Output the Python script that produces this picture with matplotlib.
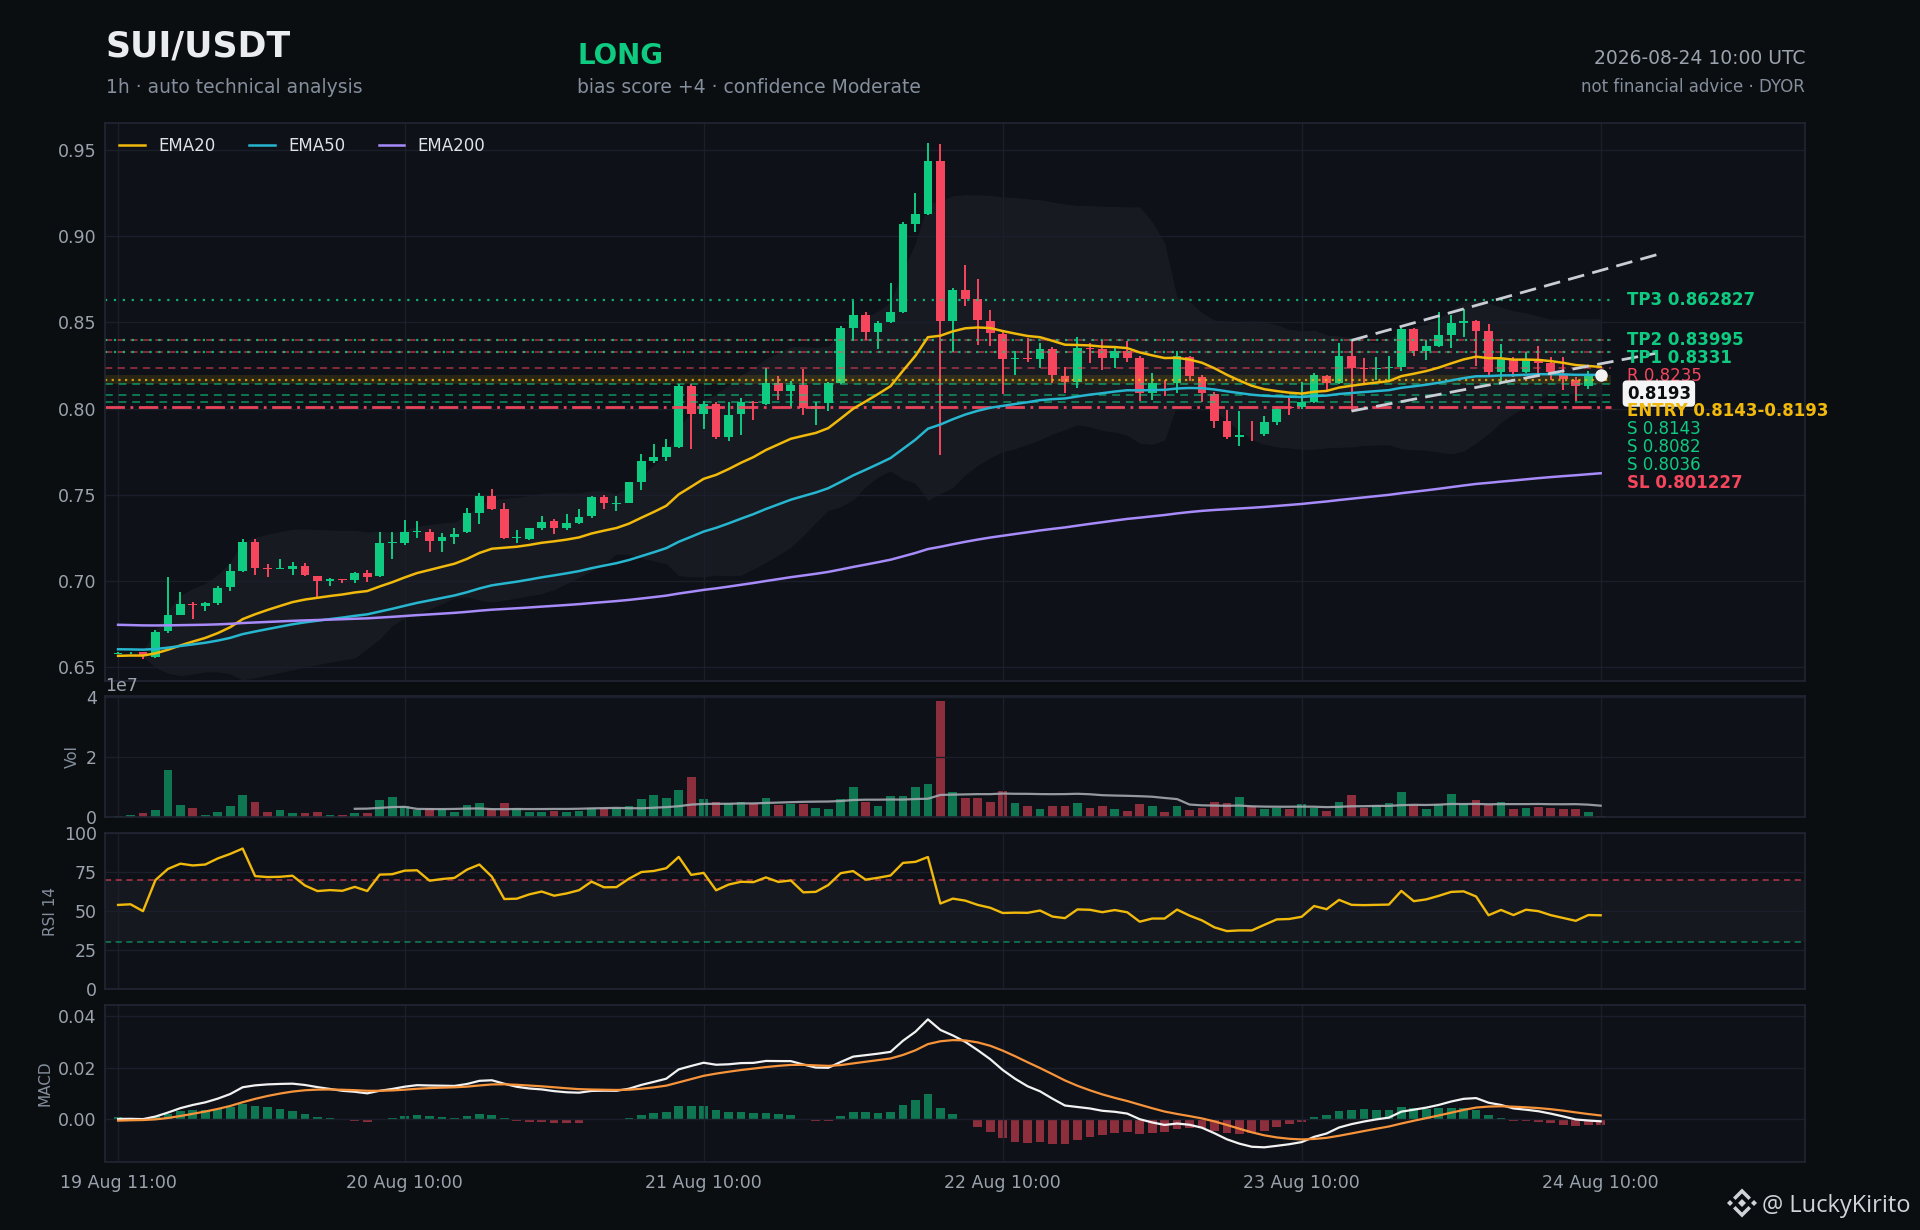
import numpy as np
import pandas as pd
import matplotlib
matplotlib.use("Agg")
import matplotlib.pyplot as plt
from matplotlib.patches import Polygon

# ---------------- data ----------------
opens = [0.6578, 0.6580, 0.6586, 0.6560, 0.6710, 0.6804, 0.6866, 0.6856, 0.6872, 0.6966,
         0.7060, 0.7226, 0.7076, 0.7070, 0.7072, 0.7090, 0.7032, 0.7000, 0.7010, 0.7006,
         0.7046, 0.7030, 0.7222, 0.7222, 0.7284, 0.7284, 0.7234, 0.7256, 0.7282, 0.7396,
         0.7492, 0.7420, 0.7250, 0.7246, 0.7306, 0.7346, 0.7310, 0.7336, 0.7376, 0.7490,
         0.7448, 0.7454, 0.7576, 0.7696, 0.7720, 0.7780, 0.8132, 0.7970, 0.8026, 0.7836,
         0.7970, 0.8036, 0.8026, 0.8146, 0.8102, 0.8136, 0.8000, 0.8030, 0.8146, 0.8470,
         0.8542, 0.8442, 0.8502, 0.8562, 0.9072, 0.9130, 0.9438, 0.8506, 0.8690, 0.8634,
         0.8510, 0.8432, 0.8290, 0.8296, 0.8290, 0.8346, 0.8190, 0.8156, 0.8352, 0.8346,
         0.8292, 0.8336, 0.8292, 0.8090, 0.8150, 0.8146, 0.8300, 0.8186, 0.8086, 0.7930,
         0.7836, 0.7850, 0.7852, 0.7922, 0.8010, 0.8010, 0.8036, 0.8190, 0.8146, 0.8306,
         0.8236, 0.8232, 0.8236, 0.8242, 0.8462, 0.8336, 0.8366, 0.8430, 0.8496, 0.8506,
         0.8450, 0.8210, 0.8286, 0.8210, 0.8290, 0.8266, 0.8200, 0.8166, 0.8130, 0.8196]
highs = [0.6586, 0.6590, 0.6588, 0.6716, 0.7026, 0.6934, 0.6876, 0.6880, 0.6970, 0.7096,
         0.7246, 0.7242, 0.7096, 0.7126, 0.7110, 0.7102, 0.7032, 0.7016, 0.7012, 0.7050,
         0.7066, 0.7286, 0.7286, 0.7354, 0.7346, 0.7302, 0.7276, 0.7306, 0.7422, 0.7510,
         0.7534, 0.7452, 0.7296, 0.7310, 0.7376, 0.7360, 0.7386, 0.7416, 0.7496, 0.7498,
         0.7496, 0.7576, 0.7736, 0.7794, 0.7822, 0.8142, 0.8142, 0.8042, 0.8036, 0.8036,
         0.8062, 0.8046, 0.8236, 0.8190, 0.8160, 0.8230, 0.8036, 0.8156, 0.8480, 0.8626,
         0.8560, 0.8510, 0.8730, 0.9080, 0.9252, 0.9542, 0.9536, 0.8700, 0.8834, 0.8750,
         0.8572, 0.8442, 0.8336, 0.8410, 0.8382, 0.8356, 0.8242, 0.8416, 0.8382, 0.8396,
         0.8350, 0.8392, 0.8306, 0.8206, 0.8166, 0.8332, 0.8306, 0.8194, 0.8096, 0.7992,
         0.7986, 0.7926, 0.7956, 0.8010, 0.8062, 0.8156, 0.8206, 0.8194, 0.8380, 0.8396,
         0.8294, 0.8300, 0.8306, 0.8466, 0.8470, 0.8400, 0.8560, 0.8546, 0.8576, 0.8512,
         0.8490, 0.8376, 0.8302, 0.8330, 0.8362, 0.8300, 0.8300, 0.8186, 0.8216, 0.8200]
lows = [0.6574, 0.6576, 0.6550, 0.6554, 0.6700, 0.6804, 0.6780, 0.6826, 0.6862, 0.6942,
        0.7054, 0.7036, 0.7022, 0.7068, 0.7036, 0.7030, 0.6906, 0.6972, 0.6990, 0.6990,
        0.6996, 0.7026, 0.7126, 0.7210, 0.7250, 0.7170, 0.7166, 0.7216, 0.7276, 0.7332,
        0.7412, 0.7246, 0.7222, 0.7240, 0.7296, 0.7272, 0.7296, 0.7332, 0.7366, 0.7420,
        0.7406, 0.7450, 0.7530, 0.7686, 0.7696, 0.7772, 0.7766, 0.7882, 0.7826, 0.7812,
        0.7850, 0.7936, 0.8022, 0.8052, 0.8006, 0.7966, 0.7906, 0.7986, 0.8142, 0.8396,
        0.8396, 0.8346, 0.8494, 0.8552, 0.9022, 0.9122, 0.7730, 0.8326, 0.8596, 0.8370,
        0.8366, 0.8086, 0.8196, 0.8270, 0.8236, 0.8150, 0.8090, 0.8122, 0.8266, 0.8222,
        0.8236, 0.8270, 0.8042, 0.8050, 0.8076, 0.8090, 0.8162, 0.8036, 0.7890, 0.7826,
        0.7786, 0.7812, 0.7842, 0.7906, 0.7966, 0.7996, 0.8030, 0.8106, 0.8142, 0.7986,
        0.8150, 0.8166, 0.8166, 0.8220, 0.8306, 0.8282, 0.8356, 0.8352, 0.8416, 0.8250,
        0.8196, 0.8156, 0.8186, 0.8206, 0.8206, 0.8166, 0.8106, 0.8046, 0.8116, 0.8188]
closes = [0.6582, 0.6584, 0.6566, 0.6702, 0.6800, 0.6866, 0.6860, 0.6872, 0.6962, 0.7056,
          0.7226, 0.7076, 0.7070, 0.7074, 0.7090, 0.7034, 0.7000, 0.7010, 0.7006, 0.7044,
          0.7022, 0.7220, 0.7226, 0.7284, 0.7290, 0.7234, 0.7256, 0.7270, 0.7392, 0.7492,
          0.7420, 0.7250, 0.7254, 0.7306, 0.7342, 0.7310, 0.7336, 0.7374, 0.7490, 0.7450,
          0.7452, 0.7572, 0.7696, 0.7718, 0.7776, 0.8132, 0.7970, 0.8026, 0.7836, 0.7966,
          0.8036, 0.8032, 0.8150, 0.8102, 0.8136, 0.8006, 0.8016, 0.8150, 0.8470, 0.8542,
          0.8442, 0.8496, 0.8562, 0.9072, 0.9130, 0.9438, 0.8506, 0.8690, 0.8634, 0.8516,
          0.8436, 0.8286, 0.8294, 0.8290, 0.8346, 0.8196, 0.8156, 0.8352, 0.8344, 0.8292,
          0.8336, 0.8292, 0.8090, 0.8146, 0.8146, 0.8306, 0.8190, 0.8090, 0.7930, 0.7836,
          0.7846, 0.7846, 0.7922, 0.8000, 0.8006, 0.8036, 0.8196, 0.8150, 0.8306, 0.8236,
          0.8232, 0.8236, 0.8240, 0.8462, 0.8336, 0.8366, 0.8426, 0.8496, 0.8506, 0.8452,
          0.8210, 0.8286, 0.8210, 0.8286, 0.8266, 0.8210, 0.8170, 0.8130, 0.8196, 0.8193]
volumes_m = [0.3, 0.56, 1.24, 2.25, 15.7, 3.9, 2.9, 0.56, 1.57, 3.6,
             7.3, 4.9, 1.57, 2.25, 1.24, 1.24, 1.57, 0.56, 0.56, 1.24,
             1.24, 5.6, 6.6, 3.6, 2.25, 2.9, 2.6, 1.57, 3.9, 4.6,
             2.6, 4.6, 2.9, 1.57, 1.57, 1.9, 1.57, 1.9, 2.9, 2.9,
             2.9, 3.6, 6.0, 7.3, 6.3, 9.0, 13.4, 6.0, 4.9, 4.6,
             4.9, 4.6, 6.3, 3.9, 4.3, 4.3, 2.9, 2.6, 6.0, 10.0,
             4.9, 3.6, 7.0, 7.0, 10.0, 11.0, 38.7, 8.3, 6.3, 6.3,
             4.9, 8.7, 4.6, 3.6, 2.6, 3.6, 3.6, 4.6, 2.9, 3.6,
             2.6, 1.9, 4.3, 3.6, 1.57, 3.6, 2.25, 2.9, 4.9, 4.6,
             6.6, 3.6, 2.6, 2.9, 2.6, 4.3, 2.9, 1.9, 4.9, 7.3,
             2.9, 3.9, 4.6, 8.3, 3.9, 2.6, 4.3, 7.6, 4.3, 5.6,
             3.9, 4.9, 2.6, 2.9, 3.3, 2.9, 2.6, 2.6, 1.57, 0.4]

tick_positions = [0, 23, 47, 71, 95, 119]
tick_labels = ["19 Aug 11:00", "20 Aug 10:00", "21 Aug 10:00",
               "22 Aug 10:00", "23 Aug 10:00", "24 Aug 10:00"]

ema_seeds = {20: 0.6566, 50: 0.6604, 200: 0.6746}
rsi_seed_gain, rsi_seed_loss = 0.0009, 0.00077
macd_seed_fast = macd_seed_slow = 0.6578
macd_seed_signal = -0.0008

# trade levels
tp_levels = [("TP3", 0.862827), ("TP2", 0.83995), ("TP1", 0.8331)]
resistance_levels = [0.83995, 0.8331, 0.8235]
support_levels = [0.8143, 0.8082, 0.8036]
entry_low, entry_high = 0.8143, 0.8193
stop_loss = 0.801227
last_price = 0.8193

channel_x = [99, 123.5]
channel_upper = [0.8396, 0.8893]
channel_lower = [0.7986, 0.8322]

# ---------------- derived series ----------------
o = np.array(opens); h = np.array(highs); l = np.array(lows); c = np.array(closes)
v = np.array(volumes_m) * 1e6
n = len(c)
x = np.arange(n)
up = c >= o


def ema(series, span, seed):
    a = 2.0 / (span + 1)
    out = np.empty(len(series))
    prev = seed
    for i, val in enumerate(series):
        prev = seed if i == 0 else a * val + (1 - a) * prev
        out[i] = prev
    return out


ema20 = ema(c, 20, ema_seeds[20])
ema50 = ema(c, 50, ema_seeds[50])
ema200 = ema(c, 200, ema_seeds[200])

cs = pd.Series(c)
bb_mid = cs.rolling(20, min_periods=1).mean()
bb_std = cs.rolling(20, min_periods=1).std(ddof=0)
bb_up = (bb_mid + 2 * bb_std).values
bb_lo = (bb_mid - 2 * bb_std).values

vol_ma = pd.Series(v).rolling(20).mean().values

ag, al = rsi_seed_gain, rsi_seed_loss
rsi = np.empty(n)
for i in range(n):
    if i > 0:
        d = c[i] - c[i - 1]
        ag = (ag * 13 + max(d, 0)) / 14
        al = (al * 13 + max(-d, 0)) / 14
    rsi[i] = 100 * ag / (ag + al)

af, as_ = 2 / 13, 2 / 27
ef = np.empty(n); es = np.empty(n)
pf, ps = macd_seed_fast, macd_seed_slow
for i in range(n):
    pf = af * c[i] + (1 - af) * pf
    ps = as_ * c[i] + (1 - as_) * ps
    ef[i], es[i] = pf, ps
macd = ef - es
sig = np.empty(n)
ps_ = macd_seed_signal
asg = 2 / 10
for i in range(n):
    ps_ = asg * macd[i] + (1 - asg) * ps_
    sig[i] = ps_
hist = macd - sig

# ---------------- style ----------------
W, H = 1920, 1230
FIG_BG = "#0b0e11"
AX_BG = "#0e1117"
GRID = "#1b1f2b"
SPINE = "#222633"
TICK = "#9aa3ad"
MUTED = "#848e9c"
GREEN = "#0ecb81"
RED = "#f6465d"
YELLOW = "#f0b90b"
CYAN = "#26b6cf"
PURPLE = "#a78bfa"

plt.rcParams["font.family"] = ["DejaVu Sans"]

fig = plt.figure(figsize=(W / 100, H / 100), dpi=100, facecolor=FIG_BG)


def rect(left, top, right, bottom):
    return [left / W, 1 - bottom / H, (right - left) / W, (bottom - top) / H]


ax = fig.add_axes(rect(105, 122.5, 1805, 681))
axv = fig.add_axes(rect(105, 695.5, 1805, 817), sharex=ax)
axr = fig.add_axes(rect(105, 833, 1805, 989), sharex=ax)
axm = fig.add_axes(rect(105, 1005, 1805, 1162), sharex=ax)

for a in (ax, axv, axr, axm):
    a.set_facecolor(AX_BG)
    for s in a.spines.values():
        s.set_color(SPINE)
        s.set_linewidth(1.2)
    a.grid(True, color=GRID, linewidth=1.0)
    a.tick_params(colors=TICK, labelsize=12.5, length=0, pad=6)

# ---- price panel ----
ax.fill_between(x, bb_lo, bb_up, color="white", alpha=0.04, linewidth=0, zorder=0.6)
cols = np.where(up, GREEN, RED)
body_bot = np.minimum(o, c)
body_h = np.maximum(np.abs(c - o), 0.0004)
ax.vlines(x, l, h, colors=cols, linewidth=1.4, zorder=2)
ax.bar(x, body_h, bottom=body_bot, width=0.7, color=cols, linewidth=0, zorder=2.1)

x0, x1 = -1.05, 119.8
ax.fill_between([x0, x1], entry_low, entry_high, color=YELLOW, alpha=0.12, linewidth=0, zorder=2.3)
ax.hlines((entry_low + entry_high) / 2, x0, x1, colors=YELLOW, linestyles=(0, (1, 2)),
          linewidth=1.6, alpha=0.8, zorder=2.4)
for lv in resistance_levels:
    ax.hlines(lv, x0, x1, colors=RED, linestyles=(0, (4, 3)), linewidth=1.3, alpha=0.55, zorder=2.4)
for _, lv in tp_levels:
    ax.hlines(lv, x0, x1, colors=GREEN, linestyles=(0, (1, 3)), linewidth=1.6, alpha=0.85, zorder=2.5)
for lv in support_levels:
    ax.hlines(lv, x0, x1, colors=GREEN, linestyles=(0, (4, 3)), linewidth=1.4, alpha=0.55, zorder=2.4)
ax.hlines(stop_loss, x0, x1, colors=RED, linestyles=(0, (7, 2, 1, 2)), linewidth=2.0, alpha=0.95, zorder=2.5)

ax.plot(x, ema20, color=YELLOW, lw=1.8, label="EMA20", zorder=3)
ax.plot(x, ema50, color=CYAN, lw=1.8, label="EMA50", zorder=3)
ax.plot(x, ema200, color=PURPLE, lw=1.8, label="EMA200", zorder=3)

ax.plot(channel_x, channel_upper, color="#c9ced6", lw=2.0, dashes=(6, 3), zorder=4)
ax.plot(channel_x, channel_lower, color="#c9ced6", lw=2.0, dashes=(6, 3), zorder=4)

ax.plot([n - 1], [last_price], "o", color="#f2f2f2", ms=8, zorder=6)

ax.set_xlim(x0, 135.4)
ax.set_ylim(0.642, 0.966)
ax.set_yticks([0.65, 0.70, 0.75, 0.80, 0.85, 0.90, 0.95])
ax.tick_params(labelbottom=False)
leg = ax.legend(loc="upper left", ncol=3, frameon=False, fontsize=12, labelcolor="#dfe3e8",
                handlelength=1.55, handletextpad=0.8, columnspacing=2.0,
                borderaxespad=0.45, borderpad=0.4)

# right-side labels
labels = [(tp_levels[0][1], "TP3 0.862827", GREEN, "bold", None),
          (tp_levels[1][1], "TP2 0.83995", GREEN, "bold", None),
          (tp_levels[2][1], "TP1 0.8331", GREEN, "bold", None),
          (0.8235, "R 0.8235", RED, "normal", None),
          (last_price, "0.8193", "#0b0e11", "bold", "box"),
          ((entry_low + entry_high) / 2, "ENTRY 0.8143-0.8193", YELLOW, "bold", None),
          (support_levels[0], "S 0.8143", GREEN, "normal", None),
          (support_levels[1], "S 0.8082", GREEN, "normal", None),
          (support_levels[2], "S 0.8036", GREEN, "normal", None),
          (stop_loss, "SL 0.801227", RED, "bold", None)]
gap = 0.0104
prev = None
for price, txt, col, wt, kind in labels:
    yl = price if prev is None else min(price, prev - gap)
    prev = yl
    kw = {}
    if kind == "box":
        kw["bbox"] = dict(boxstyle="round,pad=0.25", fc="#f5f5f5", ec="none")
    ax.text(121.1, yl, txt, color=col, fontsize=12, fontweight=wt, va="center", ha="left",
            zorder=7, clip_on=False, **kw)

# ---- volume ----
axv.bar(x, v, width=0.7, color=cols, alpha=0.55, linewidth=0)
axv.plot(x, vol_ma, color="#a4a9b0", lw=1.6, alpha=0.9)
axv.set_ylim(0, v.max() * 1.05)
axv.set_yticks([0, 2e7, 4e7])
axv.set_ylabel("Vol", color=MUTED, fontsize=11)
axv.yaxis.get_offset_text().set_color(TICK)
axv.yaxis.get_offset_text().set_fontsize(12.5)
axv.tick_params(labelbottom=False)

# ---- RSI ----
axr.axhspan(30, 70, color="white", alpha=0.03, linewidth=0)
axr.axhline(70, color=RED, ls=(0, (4, 3)), lw=1.1, alpha=0.7)
axr.axhline(30, color=GREEN, ls=(0, (4, 3)), lw=1.1, alpha=0.6)
axr.plot(x, rsi, color=YELLOW, lw=1.7)
axr.set_ylim(0, 100)
axr.set_yticks([0, 25, 50, 75, 100])
axr.set_ylabel("RSI 14", color=MUTED, fontsize=11)
axr.tick_params(labelbottom=False)

# ---- MACD ----
hcols = np.where(hist >= 0, GREEN, RED)
axm.bar(x, hist, width=0.7, color=hcols, alpha=0.55, linewidth=0)
axm.plot(x, macd, color="#f2f2f2", lw=1.6)
axm.plot(x, sig, color="#f7933a", lw=1.6)
axm.set_ylim(-0.0167, 0.0443)
axm.set_yticks([0.0, 0.02, 0.04])
axm.yaxis.set_major_formatter(matplotlib.ticker.FormatStrFormatter("%.2f"))
axm.set_ylabel("MACD", color=MUTED, fontsize=11)
axm.set_xticks(tick_positions)
axm.set_xticklabels(tick_labels)
axm.tick_params(axis="x", pad=9)

# ---- header ----
def fp(px_, py_):
    return px_ / W, 1 - py_ / H


fig.text(*fp(106, 57), "SUI/USDT", color="#eaecef", fontsize=25, fontweight="bold", va="baseline")
fig.text(*fp(106, 93), "1h · auto technical analysis", color=MUTED, fontsize=13.5, va="baseline")
fig.text(*fp(577, 64), "LONG", color=GREEN, fontsize=20, fontweight="bold", va="baseline")
fig.text(*fp(577, 93), "bias score +4 · confidence Moderate", color=MUTED, fontsize=13.5, va="baseline")
fig.text(*fp(1805, 64), "2026-08-24 10:00 UTC", color=TICK, fontsize=13.5, ha="right", va="baseline")
fig.text(*fp(1805, 92), "not financial advice · DYOR", color=MUTED, fontsize=12, ha="right", va="baseline")

# ---- watermark ----
cx, cy = 1742, 1203
logo_shapes = [
    [(0, -4), (4, 0), (0, 4), (-4, 0)],
    [(-12, -3), (-9, 0), (-12, 3), (-15, 0)],
    [(12, -3), (15, 0), (12, 3), (9, 0)],
    [(-9, -5.5), (0, -14.5), (9, -5.5), (6.5, -3), (0, -9.5), (-6.5, -3)],
    [(-9, 5.5), (0, 14.5), (9, 5.5), (6.5, 3), (0, 9.5), (-6.5, 3)],
]
for shp in logo_shapes:
    pts = [fp(cx + dx, cy + dy) for dx, dy in shp]
    fig.add_artist(Polygon(pts, closed=True, transform=fig.transFigure, fc="#d0d3d8", ec="none"))
fig.text(*fp(1762, 1212), "@ LuckyKirito", color="#d0d3d8", fontsize=17,
         family=["Open Sans", "DejaVu Sans"], va="baseline")

fig.savefig("out.png", dpi=100, facecolor=FIG_BG)
